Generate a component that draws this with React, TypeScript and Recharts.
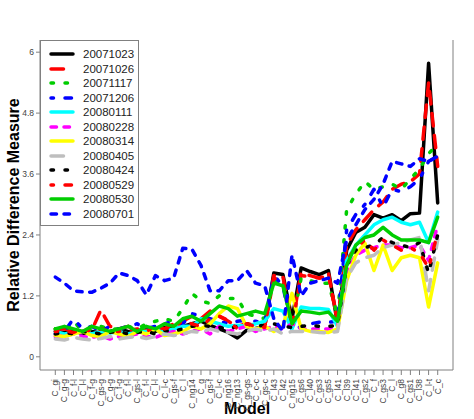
import { LineChart, Line, XAxis, YAxis, Legend, ReferenceLine, Label } from 'recharts';

const MODELS = [
  'C_gi', 'C_g-g', 'C_f-l', 'C_l-l', 'C_f-g', 'C_gs-g', 'C_g-g', 'C_f-g', 'C_f-l', 'C_gs-l',
  'C_f-l', 'C_l-l', 'C_l-c', 'C_gs-f', 'C_l', 'C_ng14', 'C_g', 'C_gs-f', 'C_l-c', 'C_ng16',
  'C_ng13', 'C_gs-gs', 'C_c-c', 'C_gs-c', 'C_l43', 'C_l42', 'C_ng15', 'C_gs6', 'C_l40', 'C_gs3',
  'C_gs5', 'C_l41', 'C_l39', 'C_l41', 'C_gs2', 'C_f', 'C_gs3', 'C_l', 'C_g8', 'C_gs1',
  'C_l38', 'C_l-t', 'C_c',
];

const Y_TICKS = [0, 1.2, 2.4, 3.6, 4.8, 6];

const d20071023 = [
  0.5, 0.48, 0.52, 0.45, 0.5, 0.47, 0.5, 0.55, 0.5, 0.48,
  0.55, 0.5, 0.58, 0.55, 0.6, 0.65, 0.7, 0.62, 0.55, 0.48,
  0.37, 0.52, 0.56, 0.6, 1.65, 1.62, 0.75, 1.75, 1.68, 1.62,
  1.7, 0.65, 2.1, 2.45, 2.55, 2.8, 2.73, 2.8, 2.68, 2.82,
  2.83, 5.78, 3.03,
];
const d20071026 = [
  0.55, 0.55, 0.5, 0.5, 0.52, 0.92, 0.6, 0.55, 0.6, 0.5,
  0.52, 0.6, 0.55, 0.65, 0.7, 0.8, 0.75, 0.9, 0.8, 0.7,
  0.6, 0.65, 0.62, 0.6, 1.6, 1.58, 0.62, 1.65, 1.6, 1.55,
  1.65, 0.7, 2.2, 2.5, 2.7, 2.9, 3.05, 3.3, 3.4, 3.45,
  3.6, 5.4, 3.75,
];
const d20071117 = [
  0.55, 0.5, 0.7, 0.5, 0.55, 0.6, 0.55, 0.55, 0.6, 0.55,
  0.65, 0.7, 0.75, 0.7, 0.95, 1.25, 1.1, 1.05, 1.2, 1.15,
  1.15, 0.85, 0.8, 0.75, 1.5, 1.45, 0.6, 1.55, 1.5, 1.45,
  1.45, 0.8, 2.9, 3.2, 3.45, 3.3, 3.35, 3.4, 3.3, 3.5,
  3.7, 4.0, 4.2,
];
const d20071206 = [
  0.45, 0.5, 0.75, 0.55, 0.6, 0.5, 0.6, 0.55, 0.6, 0.65,
  0.55, 0.6, 0.65, 0.7, 0.65, 0.85, 0.8, 0.75, 0.7, 0.65,
  0.7, 0.72, 0.7, 0.65, 1.6, 1.4, 0.5, 0.6, 0.65, 0.68,
  0.68, 0.7, 2.5, 2.8, 3.0, 3.3, 2.95, 3.3, 3.25, 3.35,
  3.5, 3.85, 3.95,
];
const d20080111 = [
  0.5, 0.45, 0.48, 0.5, 0.45, 0.5, 0.47, 0.5, 0.45, 0.5,
  0.5, 0.55, 0.5, 0.55, 0.6, 0.6, 0.75, 0.7, 0.65, 0.6,
  0.62, 0.6, 0.65, 0.7, 0.95, 0.9, 0.55, 0.98, 0.95, 0.95,
  0.93, 0.6, 1.9, 2.2, 2.4, 2.6, 2.7, 2.75, 2.65, 2.6,
  2.65, 2.25, 2.85,
];
const d20080228 = [
  0.4, 0.42, 0.45, 0.4, 0.38, 0.42, 0.35, 0.4, 0.42, 0.45,
  0.4, 0.38, 0.45, 0.5, 0.45, 0.5, 0.55, 0.45, 0.6, 0.5,
  0.55, 0.6, 0.5, 0.55, 0.6, 0.55, 0.65, 0.55, 0.55, 0.55,
  0.55, 0.6, 1.7, 2.0, 2.1, 2.15, 2.2, 2.2, 2.15, 2.15,
  2.2, 1.9, 2.6,
];
const d20080314 = [
  0.42, 0.4, 0.45, 0.5, 0.42, 0.4, 0.5, 0.45, 0.4, 0.5,
  0.45, 0.55, 0.42, 0.45, 0.5, 0.6, 0.55, 0.65, 0.85, 1.0,
  0.95, 0.6, 0.55, 0.6, 0.5, 0.6, 1.25, 0.55, 0.5, 0.5,
  0.48, 0.55, 1.5, 2.0, 2.24, 1.7, 2.2, 1.7, 1.95, 2.0,
  1.95, 0.98, 1.85,
];
const d20080405 = [
  0.35, 0.33, 0.38, 0.35, 0.33, 0.36, 0.4, 0.35, 0.38, 0.4,
  0.36, 0.4, 0.45, 0.42, 0.45, 0.5, 0.48, 0.55, 0.5, 0.48,
  0.45, 0.5, 0.55, 0.5, 0.55, 0.45, 0.5, 0.5, 0.5, 0.48,
  0.47, 0.5, 1.55, 1.85, 1.95, 2.0, 2.15, 2.2, 2.25, 2.3,
  2.35, 1.3, 2.3,
];
const d20080424 = [
  0.45, 0.48, 0.45, 0.5, 0.48, 0.45, 0.48, 0.5, 0.45, 0.48,
  0.5, 0.45, 0.52, 0.5, 0.55, 0.6, 0.62, 0.6, 0.58, 0.55,
  0.6, 0.65, 0.6, 0.62, 0.65, 0.6, 0.58, 0.6, 0.62, 0.6,
  0.6, 0.62, 1.8, 2.1, 2.15, 2.2, 2.35, 2.25, 2.2, 2.15,
  2.25, 1.65, 2.4,
];
const d20080529 = [
  0.5, 0.52, 0.48, 0.55, 0.5, 0.55, 0.5, 0.5, 0.52, 0.55,
  0.5, 0.6, 0.55, 0.6, 0.7, 0.65, 0.6, 0.75, 0.8, 0.72,
  0.55, 0.65, 0.6, 0.58, 1.55, 1.5, 0.6, 1.6, 1.58, 1.55,
  1.6, 0.68, 1.9, 2.15, 2.3, 2.1, 2.3, 2.2, 2.1, 2.15,
  2.05, 1.75, 2.45,
];
const d20080530 = [
  0.55, 0.6, 0.55, 0.5, 0.6, 0.55, 0.5, 0.55, 0.6, 0.5,
  0.6, 0.55, 0.65, 0.6, 0.75, 0.8, 0.7, 0.85, 1.0, 0.95,
  0.8, 0.85, 0.9, 0.85, 1.45, 1.4, 0.65, 0.9, 0.88, 0.85,
  0.88, 0.7, 1.8, 2.2, 2.35, 2.4, 2.55, 2.4, 2.3, 2.3,
  2.3, 2.25, 2.75,
];
const d20080701 = [
  1.57, 1.45, 1.3, 1.28, 1.27, 1.35, 1.45, 1.65, 1.6, 1.5,
  1.22, 1.6, 1.5, 1.55, 2.14, 2.12, 1.8, 1.3, 1.3, 1.5,
  1.5, 1.7, 1.45, 1.4, 0.75, 0.5, 2.0, 1.2, 1.45, 1.5,
  1.55, 1.45, 2.3, 2.6, 2.9, 3.1, 3.4, 3.85, 3.8, 3.75,
  3.9, 3.85, 3.95,
];

// R-style line types, tuned for round caps at width 3.5
const SOLID = undefined;
const LONGDASH = '12.5 9.5';
const DOTTED = '2.5 11.5';
const DOTDASH = '2.5 11.5 6.5 11.5';
const DASHED = '5.5 7.5';

const SERIES = [
  { key: '20071023', values: d20071023, color: '#000000', dash: SOLID },
  { key: '20071026', values: d20071026, color: '#ff0000', dash: LONGDASH },
  { key: '20071117', values: d20071117, color: '#00cd00', dash: DOTTED },
  { key: '20071206', values: d20071206, color: '#0000ff', dash: DOTDASH },
  { key: '20080111', values: d20080111, color: '#00ffff', dash: SOLID },
  { key: '20080228', values: d20080228, color: '#ff00ff', dash: DASHED },
  { key: '20080314', values: d20080314, color: '#ffff00', dash: SOLID },
  { key: '20080405', values: d20080405, color: '#bebebe', dash: LONGDASH },
  { key: '20080424', values: d20080424, color: '#000000', dash: DOTTED },
  { key: '20080529', values: d20080529, color: '#ff0000', dash: DOTDASH },
  { key: '20080530', values: d20080530, color: '#00cd00', dash: SOLID },
  { key: '20080701', values: d20080701, color: '#0000ff', dash: DASHED },
];

const data = MODELS.map((name, i) => {
  const row: any = { idx: i + 1, name };
  SERIES.forEach((s) => {
    row[s.key] = s.values[i];
  });
  return row;
});

const FONT = '"Liberation Sans", Arial, sans-serif';
const AXIS_COLOR = '#808080';

const XTick = ({ x, y, payload }: any) => (
  <g transform={`translate(${x},${y})`}>
    <text
      transform="rotate(-90)"
      x={-2}
      y={3}
      textAnchor="end"
      fontSize={8.5}
      fontFamily={FONT}
      fill="#444"
    >
      {MODELS[payload.value - 1]}
    </text>
  </g>
);

const LegendBox = () => (
  <div
    style={{
      width: 99,
      height: 186,
      border: `1px solid ${AXIS_COLOR}`,
      background: '#fff',
      boxSizing: 'border-box',
      paddingTop: 6,
      fontFamily: FONT,
    }}
  >
    {SERIES.map((s) => (
      <div key={s.key} style={{ display: 'flex', alignItems: 'center', height: 14.5 }}>
        <svg width={42} height={10} style={{ flex: 'none' }}>
          <line
            x1={10}
            x2={32}
            y1={5}
            y2={5}
            stroke={s.color}
            strokeWidth={3.5}
            strokeLinecap="round"
            strokeDasharray={s.dash}
          />
        </svg>
        <span style={{ fontSize: 11.5, color: '#222', lineHeight: '14px' }}>{s.key}</span>
      </div>
    ))}
  </div>
);

export default function App() {
  return (
    <div style={{ position: 'absolute', left: 0, top: 0, width: 474, height: 419, background: '#fff' }}>
      <LineChart
        width={474}
        height={419}
        data={data}
        margin={{ top: 40, right: 21, bottom: 0, left: 0 }}
      >
        <XAxis
          dataKey="idx"
          type="number"
          domain={[-0.68, 44.68]}
          allowDataOverflow
          ticks={MODELS.map((_, i) => i + 1)}
          interval={0}
          height={49}
          tick={<XTick />}
          tickSize={5}
          stroke={AXIS_COLOR}
          tickLine={{ stroke: AXIS_COLOR }}
        >
          <Label
            content={() => (
              <text
                x={247}
                y={414}
                textAnchor="middle"
                fontSize={16}
                fontWeight="bold"
                fontFamily={FONT}
                fill="#000"
              >
                Model
              </text>
            )}
          />
        </XAxis>
        <YAxis
          type="number"
          domain={[-0.26, 6.24]}
          allowDataOverflow
          ticks={Y_TICKS}
          width={40}
          tickSize={4}
          stroke={AXIS_COLOR}
          tick={{ fontSize: 8.5, fill: '#444', fontFamily: FONT }}
          tickFormatter={(v: number) => String(v)}
        >
          <Label
            content={() => (
              <text
                x={0}
                y={0}
                transform="translate(19,205) rotate(-90)"
                textAnchor="middle"
                fontSize={16}
                fontWeight="bold"
                fontFamily={FONT}
                fill="#000"
              >
                Relative Difference Measure
              </text>
            )}
          />
        </YAxis>
        <ReferenceLine x={44.68} stroke={AXIS_COLOR} strokeWidth={1} />
        {SERIES.map((s) => (
          <Line
            key={s.key}
            type="linear"
            dataKey={s.key}
            stroke={s.color}
            strokeWidth={3.5}
            strokeDasharray={s.dash}
            strokeLinecap="round"
            strokeLinejoin="round"
            dot={false}
            activeDot={false}
            isAnimationActive={false}
          />
        ))}
        <Legend
          layout="vertical"
          align="center"
          verticalAlign="middle"
          content={<LegendBox />}
          wrapperStyle={{ left: 40, top: 40, width: 100 }}
        />
      </LineChart>
    </div>
  );
}
